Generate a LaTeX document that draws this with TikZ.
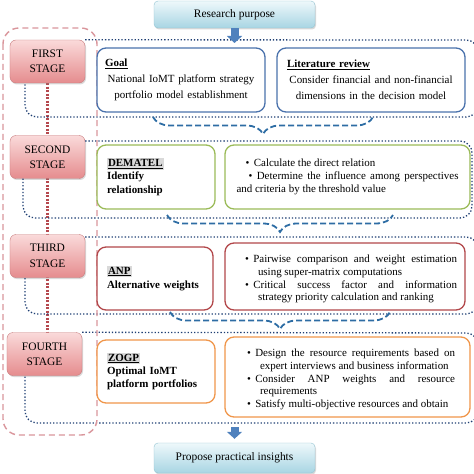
\documentclass[tikz,border=0pt]{standalone}
\usepackage{fontspec}
\setmainfont{Liberation Serif}
\usetikzlibrary{positioning,shadows,arrows.meta,decorations.pathreplacing,backgrounds}

\definecolor{boxblue}{HTML}{4A72AC}
\definecolor{boxgreen}{HTML}{9BBB59}
\definecolor{boxred}{HTML}{B2474A}
\definecolor{boxorange}{HTML}{F0964A}
\definecolor{grpblue}{HTML}{1F3F73}
\definecolor{braceblue}{HTML}{2E6DA4}
\definecolor{arrowblue}{HTML}{4F81BD}
\definecolor{stageline}{HTML}{C77B7D}
\definecolor{stagetop}{HTML}{FADADA}
\definecolor{stagebot}{HTML}{E58C8E}
\definecolor{endline}{HTML}{93C3D2}
\definecolor{endtop}{HTML}{EEF8FB}
\definecolor{endbot}{HTML}{A8D5E3}
\definecolor{pinkdash}{HTML}{D9959B}
\definecolor{linkred}{HTML}{B5484E}
\definecolor{hlgray}{HTML}{D9D9D9}

\newcommand\hl[1]{{\setlength\fboxsep{1bp}\colorbox{hlgray}{\underline{#1}}}}
\newcommand\bpt{\par\noindent\hangindent=13bp\hangafter=1\textbullet\hspace{4.5bp}}

\begin{document}
\begin{tikzpicture}[x=1bp, y=-1bp,
    every node/.style={font=\fontsize{11}{12.8}\selectfont},
    stage/.style={
    draw=stageline,
    rounded corners=6bp,
    top color=stagetop,
    bottom color=stagebot,
    minimum width=75bp,
    minimum height=43bp,
    align=center,
    font=\fontsize{11.5}{15.5}\selectfont,
    drop shadow={opacity=0.3, shadow xshift=1bp, shadow yshift=-1.5bp}},
    endbox/.style={
    draw=endline,
    rounded corners=4bp,
    top color=endtop,
    bottom color=endbot,
    minimum width=161bp,
    minimum height=27bp,
    font=\fontsize{11.5}{14}\selectfont,
    drop shadow={opacity=0.3, shadow xshift=1bp, shadow yshift=-1.5bp}},
    box/.style={
    draw=#1,
    line width=1.3bp,
    rounded corners=9bp,
    fill=white,
    inner sep=0pt,
    execute at begin node=\setlength{\parindent}{0pt}},
    bulletbox/.style={box=#1, align=justify},
    grp/.style={draw=grpblue, dotted, line width=1.3bp, rounded corners=12bp},
    pinkline/.style={draw=pinkdash, line width=1.4bp, dash pattern=on 6bp off 4bp, rounded corners=16bp},
    redlink/.style={draw=linkred, line width=2.5bp, dash pattern=on 2bp off 1.5bp},
    bracepath/.style={draw=braceblue, line width=1.8bp, dash pattern=on 6bp off 3bp, decorate, decoration={brace, mirror, amplitude=17bp}},
    fat/.style={-{Triangle[width=15bp,length=7bp]}, line width=8bp, draw=arrowblue}]

    \useasboundingbox (0,0) rectangle (474,474);
    \clip (0,0) rectangle (474,474);

    \node[stage] (s1) at (47.5,61.5) {FIRST\\STAGE};
    \node[stage] (s2) at (47.5,157) {SECOND\\STAGE};
    \node[stage] (s3) at (47.5,256) {THIRD\\STAGE};
    \node[stage] (s4) at (44.5,354) {FOURTH\\STAGE};

    \begin{scope}[on background layer]
        \draw[redlink] (s1.south) -- (s1.south |- s4.north);
    \end{scope}

    \draw[grp] (s1.north east) -- (478,40) -- (478,117) -- (25,117) -- (s1.south -| 25,0);
    \draw[grp] (s2.east |- 0,141) -- (472,141) -- (472,218) -- (23,218) -- (s2.south -| 23,0);
    \draw[grp] (s3.east |- 0,237) -- (478,237) -- (478,314) -- (25,314) -- (s3.south -| 25,0);
    \draw[grp] (s4.north east) -- (478,333) -- (478,423) -- (25,423) -- (s4.south -| 25,0);

    \draw[pinkline] (3,28) rectangle (97,435);

    \draw[bracepath] (153,117) -- (373,117);
    \draw[bracepath] (167,215) -- (393,215);
    \draw[bracepath] (170,312) -- (390,312);

    \node[box=boxblue, minimum width=168bp, minimum height=64bp, text width=152bp, font=\fontsize{11}{16}\selectfont] (goal) at (181,80)
        {\textbf{\underline{Goal}}\par\centering National IoMT platform strategy\\ portfolio model establishment\par};
    \node[box=boxblue, minimum width=188bp, minimum height=64bp, text width=168bp, font=\fontsize{11}{16}\selectfont] (lit) at (371,80)
        {\textbf{\underline{Literature review}}\par\centering Consider financial and non-financial\\ dimensions in the decision model\par};

    \node[box=boxgreen, minimum width=118bp, minimum height=64bp, text width=98bp, font=\fontsize{11}{13.5}\selectfont] (dem) at (156,177)
        {\hl{\textbf{DEMATEL}}\par\textbf{Identify\\ relationship}};
    \node[bulletbox=boxgreen, minimum width=245bp, minimum height=64bp, text width=222bp] (demb) at (347.5,177)
        {\hspace*{9bp}\textbullet\hspace{4.5bp}Calculate the direct relation\par
        \hspace*{12bp}\textbullet\hspace{4.5bp}Determine the influence among perspectives\linebreak and criteria by the threshold value\par};

    \node[box=boxred, minimum width=116bp, minimum height=63bp, text width=96bp, font=\fontsize{11}{14.5}\selectfont] (anp) at (155,278.5)
        {\hl{\textbf{ANP}}\par\textbf{Alternative weights}};
    \node[bulletbox=boxred, minimum width=240bp, minimum height=67bp, text width=224bp] (anpb) at (345,276.5)
        {\leftskip=12bp
        \bpt Pairwise comparison and weight estimation\linebreak using super-matrix computations
        \bpt Critical success factor and information\linebreak strategy priority calculation and ranking\par};

    \node[box=boxorange, minimum width=118bp, minimum height=63bp, text width=98bp, font=\fontsize{11}{13.5}\selectfont] (zogp) at (156,371.5)
        {\hl{\textbf{ZOGP}}\par\textbf{Optimal IoMT\\ platform portfolios}};
    \node[bulletbox=boxorange, minimum width=245bp, minimum height=80bp, text width=215bp] (zogpb) at (347.5,377)
        {\leftskip=7bp
        \bpt Design the resource requirements based on\linebreak expert interviews and business information
        \bpt Consider ANP weights and resource\linebreak requirements
        \bpt Satisfy multi-objective resources and obtain\par};

    \node[endbox] (rp) at (234.5,14.5) {Research purpose};
    \node[endbox, minimum height=30bp] (pi) at (234.5,458) {Propose practical insights};

    \coordinate (t1) at (rp |- 0,43);
    \coordinate (t2) at (pi |- 0,427);
    \draw[fat] (rp) -- (t1);
    \draw[fat, shorten >=4bp] (t2) -- (pi);
\end{tikzpicture}
\end{document}
